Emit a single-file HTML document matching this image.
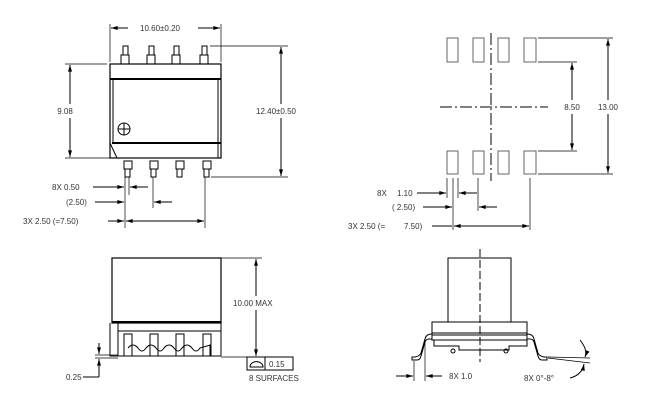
<!DOCTYPE html>
<html><head><style>
html,body{margin:0;padding:0;background:#fff;}
svg{display:block;}
text{font-family:"Liberation Sans",sans-serif;font-size:8px;fill:#333;}
</style></head><body>
<svg width="650" height="412" viewBox="0 0 650 412" xmlns="http://www.w3.org/2000/svg">
<defs>
<marker id="a" viewBox="0 0 10 6" refX="10" refY="3" markerWidth="7" markerHeight="4" orient="auto-start-reverse"><path d="M0,0L10,3L0,6z" fill="#000"/></marker>
</defs>
<g stroke="#000" stroke-width="1" fill="none">
<!-- TOP-LEFT: top view -->
<rect x="110" y="64" width="111" height="94" stroke-width="1.2"/>
<line x1="110" y1="79" x2="221" y2="79" stroke-width="2"/>
<line x1="112" y1="143" x2="221" y2="143" stroke-width="2"/>
<line x1="113" y1="79" x2="113" y2="143"/>
<line x1="218" y1="79" x2="218" y2="158"/>
<path d="M110,143 L117,158" />
<line x1="105" y1="158" x2="116" y2="158" stroke="#fff" stroke-width="0"/>
<circle cx="124" cy="129" r="6"/>
<line x1="118" y1="129" x2="130" y2="129"/><line x1="124" y1="123" x2="124" y2="135"/>
<!-- top pins -->
<g>
<rect x="123" y="46" width="5" height="9"/><rect x="121" y="55" width="8" height="9"/>
<rect x="149" y="46" width="5" height="9"/><rect x="147" y="55" width="8" height="9"/>
<rect x="174" y="46" width="5" height="9"/><rect x="172" y="55" width="8" height="9"/>
<rect x="202" y="46" width="5" height="9"/><rect x="200" y="55" width="8" height="9"/>
</g>
<!-- bottom pins -->
<g>
<rect x="124" y="161" width="8" height="8"/><rect x="125" y="169" width="5" height="8"/>
<rect x="150" y="161" width="8" height="8"/><rect x="151" y="169" width="5" height="8"/>
<rect x="176" y="161" width="8" height="8"/><rect x="177" y="169" width="5" height="8"/>
<rect x="203" y="161" width="8" height="8"/><rect x="204" y="169" width="5" height="8"/>
</g>
<!-- dims -->
<line x1="110" y1="24" x2="110" y2="62" stroke-width="0.7"/>
<line x1="221" y1="24" x2="221" y2="62" stroke-width="0.7"/>
<line x1="128" y1="28" x2="111" y2="28" marker-end="url(#a)"/>
<line x1="198" y1="28" x2="220" y2="28" marker-end="url(#a)"/>
<line x1="210" y1="46" x2="288" y2="46" stroke-width="0.7"/>
<line x1="211" y1="177" x2="288" y2="177" stroke-width="0.7"/>
<line x1="281" y1="104" x2="281" y2="47" marker-end="url(#a)"/>
<line x1="281" y1="118" x2="281" y2="176" marker-end="url(#a)"/>
<line x1="65" y1="64" x2="107" y2="64" stroke-width="0.7"/>
<line x1="65" y1="158" x2="116" y2="158" stroke-width="0.7"/>
<line x1="70" y1="104" x2="70" y2="65" marker-end="url(#a)"/>
<line x1="70" y1="118" x2="70" y2="157" marker-end="url(#a)"/>
<line x1="125" y1="177" x2="125" y2="228" stroke-width="0.7"/>
<line x1="129" y1="177" x2="129" y2="195" stroke-width="0.7"/>
<line x1="153" y1="177" x2="153" y2="208" stroke-width="0.7"/>
<line x1="205" y1="177" x2="205" y2="228" stroke-width="0.7"/>
<line x1="93" y1="187" x2="124" y2="187" marker-end="url(#a)"/>
<line x1="148" y1="187" x2="130" y2="187" marker-end="url(#a)"/>
<line x1="95" y1="202" x2="124" y2="202" marker-end="url(#a)"/>
<line x1="172" y1="202" x2="154" y2="202" marker-end="url(#a)"/>
<line x1="108" y1="221" x2="124" y2="221" marker-end="url(#a)"/>
<line x1="126" y1="221" x2="204" y2="221" marker-start="url(#a)" marker-end="url(#a)"/>

<!-- TOP-RIGHT: footprint -->
<g stroke="#666">
<rect x="447" y="38" width="11" height="24"/><rect x="473" y="38" width="11" height="24"/>
<rect x="498" y="38" width="11" height="24"/><rect x="524" y="38" width="12" height="24"/>
<rect x="447" y="151" width="11" height="23"/><rect x="473" y="151" width="11" height="23"/>
<rect x="498" y="151" width="11" height="23"/><rect x="524" y="151" width="12" height="23"/>
</g>
<line x1="491" y1="33" x2="491" y2="181" stroke-dasharray="12,3,2,3"/>
<line x1="440" y1="107" x2="548" y2="107" stroke-dasharray="12,3,2,3"/>
<line x1="538" y1="38" x2="613" y2="38" stroke-width="0.7"/>
<line x1="538" y1="174" x2="613" y2="174" stroke-width="0.7"/>
<line x1="538" y1="62" x2="577" y2="62" stroke-width="0.7"/>
<line x1="538" y1="151" x2="577" y2="151" stroke-width="0.7"/>
<line x1="572" y1="100" x2="572" y2="63" marker-end="url(#a)"/>
<line x1="572" y1="114" x2="572" y2="150" marker-end="url(#a)"/>
<line x1="608" y1="100" x2="608" y2="39" marker-end="url(#a)"/>
<line x1="608" y1="114" x2="608" y2="173" marker-end="url(#a)"/>
<line x1="447" y1="178" x2="447" y2="198" stroke-width="0.7"/>
<line x1="453" y1="178" x2="453" y2="230" stroke-width="0.7"/>
<line x1="458" y1="178" x2="458" y2="198" stroke-width="0.7"/>
<line x1="478" y1="178" x2="478" y2="211" stroke-width="0.7"/>
<line x1="530" y1="178" x2="530" y2="230" stroke-width="0.7"/>
<line x1="417" y1="193" x2="446" y2="193" marker-end="url(#a)"/>
<line x1="477" y1="193" x2="459" y2="193" marker-end="url(#a)"/>
<line x1="423" y1="207" x2="452" y2="207" marker-end="url(#a)"/>
<line x1="497" y1="207" x2="479" y2="207" marker-end="url(#a)"/>
<line x1="432" y1="226" x2="452" y2="226"/>
<line x1="454" y1="226" x2="529" y2="226" marker-start="url(#a)" marker-end="url(#a)"/>

<!-- BOTTOM-LEFT: side view -->
<rect x="112" y="258" width="109" height="65" stroke-width="1.2"/>
<line x1="112" y1="322" x2="221" y2="322" stroke-width="2"/>
<path d="M110,323 L110,356 L118,356 L118,323"/>
<line x1="118" y1="331" x2="221" y2="331"/>
<line x1="221" y1="323" x2="221" y2="356"/>
<path d="M124,334 h8 v22 h-8z M150,334 h8 v22 h-8z M176,334 h8 v22 h-8z M203,334 h8 v22 h-8z"/>
<path d="M128,348 q5,-6 10,0 q4,6 8,0 q5,-6 10,0 q4,6 8,0 q5,-6 10,0 q4,6 8,0 q5,-6 10,0 q4,6 8,0 l10,-3 v11"/>
<line x1="118" y1="356" x2="221" y2="356"/>
<line x1="221" y1="258" x2="262" y2="258" stroke-width="0.7"/>
<line x1="221" y1="357" x2="247" y2="357" stroke-width="0.7"/>
<line x1="256" y1="296" x2="256" y2="259" marker-end="url(#a)"/>
<line x1="256" y1="310" x2="256" y2="356" marker-end="url(#a)"/>
<rect x="247" y="357" width="46" height="13"/>
<line x1="265" y1="357" x2="265" y2="370"/>
<path d="M250,367 a6,5 0 0 1 13,0 z"/>
<line x1="95" y1="355" x2="118" y2="355" stroke-width="0.7"/>
<line x1="95" y1="358" x2="118" y2="358" stroke-width="0.7"/>
<line x1="99" y1="343" x2="99" y2="354" marker-end="url(#a)"/>
<line x1="99" y1="377" x2="99" y2="359" marker-end="url(#a)"/>
<line x1="83" y1="377" x2="99" y2="377"/>

<!-- BOTTOM-RIGHT: end view -->
<path d="M448,322 L448,258 L511,258 L511,322"/>
<line x1="480" y1="249" x2="480" y2="362" stroke-dasharray="8,3"/>
<rect x="432" y="322" width="95" height="18"/>
<line x1="432" y1="333" x2="527" y2="333"/>
<line x1="432" y1="335" x2="527" y2="335"/>
<path d="M434,340 v6 h25 v4 h50 v-4 h18 v-6"/>
<circle cx="453" cy="351" r="2"/><circle cx="506" cy="351" r="2"/>
<path d="M432,334 q-6,0 -7,5 l-4,14 q-1,3 -6,4 h-3 v3 h5 q3,0 4,-4 l4,-14 q1,-3 4,-3 h3"/>
<path d="M527,334 q6,0 7,5 l4,14 q1,3 6,4 h3 v3 h-5 q-3,0 -4,-4 l-4,-14 q-1,-3 -4,-3 h-3"/>
<line x1="414" y1="361" x2="414" y2="381" stroke-width="0.7"/>
<line x1="425" y1="340" x2="425" y2="381" stroke-width="0.7"/>
<line x1="396" y1="376" x2="413" y2="376" marker-end="url(#a)"/>
<line x1="442" y1="376" x2="426" y2="376" marker-end="url(#a)"/>
<line x1="548" y1="357" x2="590" y2="358" stroke-width="0.7"/>
<line x1="548" y1="358" x2="590" y2="363" stroke-width="0.7"/>
<path d="M580,340 q8,10 5,17" marker-end="url(#a)"/>
<path d="M570,378 q12,-3 14,-14" marker-end="url(#a)"/>
</g>
<g>
<text x="160" y="31" text-anchor="middle">10.60±0.20</text>
<text x="276" y="114" text-anchor="middle">12.40±0.50</text>
<text x="65" y="114" text-anchor="middle">9.08</text>
<text x="52" y="190">8X 0.50</text>
<text x="66" y="205">(2.50)</text>
<text x="23" y="224">3X 2.50 (=7.50)</text>
<text x="572" y="110" text-anchor="middle">8.50</text>
<text x="608" y="110" text-anchor="middle">13.00</text>
<text x="377" y="196">8X</text>
<text x="397" y="196">1.10</text>
<text x="392" y="210">( 2.50)</text>
<text x="348" y="229">3X 2.50 (=</text>
<text x="404" y="229">7.50)</text>
<text x="233" y="306">10.00 MAX</text>
<text x="269" y="367">0.15</text>
<text x="249" y="381">8 SURFACES</text>
<text x="66" y="380">0.25</text>
<text x="449" y="379">8X 1.0</text>
<text x="524" y="381">8X 0°-8°</text>
</g>
</svg>
</body></html>
